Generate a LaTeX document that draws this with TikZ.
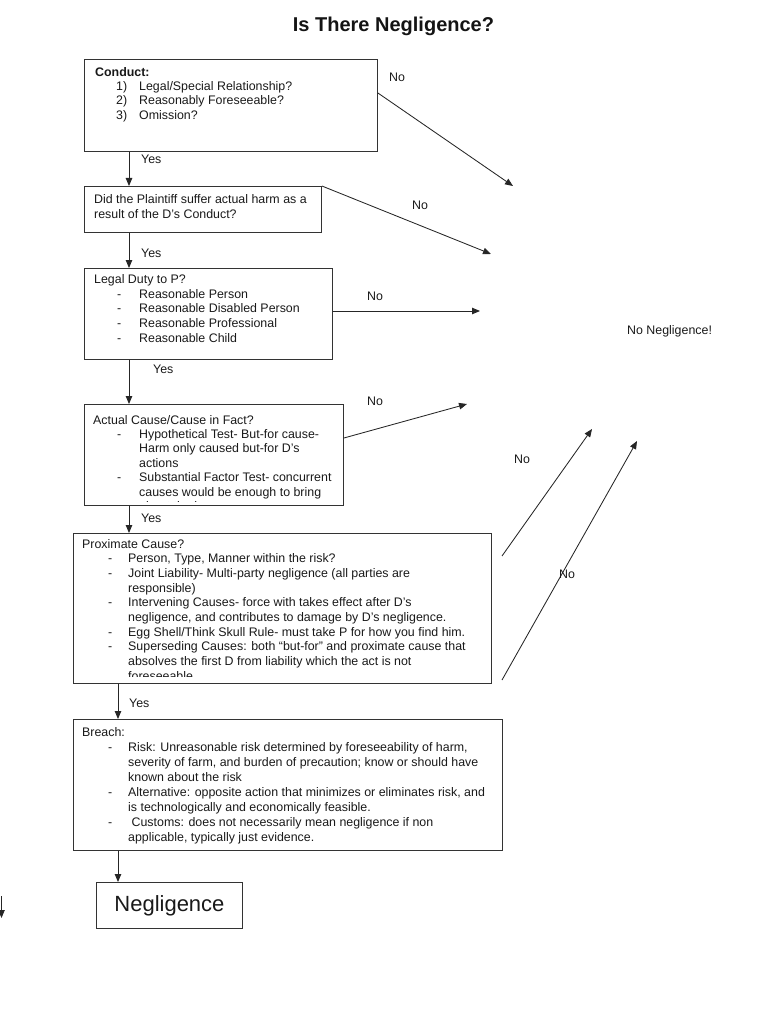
\documentclass[tikz,border=0pt]{standalone}
\usepackage{fontspec}
\setmainfont{Liberation Sans}
\usepackage{array}
\usetikzlibrary{arrows.meta,calc}
\tikzset{
  box/.style={draw=black!80, line width=0.9pt, rectangle, inner sep=0pt, anchor=north west},
  txt/.style={inner sep=0pt, anchor=base west, text=black!90, font=\fontsize{12.4}{14.6}\selectfont},
  arr/.style={draw=black!85, line width=0.85pt, -{Triangle[length=8pt,width=6.5pt]}},
}
\begin{document}
\begin{tikzpicture}[x=1pt,y=-1pt]
\useasboundingbox (0,0) rectangle (768,1024);

% title
\node[inner sep=0pt, anchor=base, text=black!92, font=\bfseries\fontsize{20}{24}\selectfont] (title) at (393.5,31.7) {Is There Negligence?};

% boxes
\node[box, minimum width=293, minimum height=92] (b1) at (84,59) {};
\node[box, minimum width=237, minimum height=46] (b2) at (84,186) {};
\node[box, minimum width=248, minimum height=91] (b3) at (84,268) {};
\node[box, minimum width=259, minimum height=101] (b4) at (84,404) {};
\node[box, minimum width=418, minimum height=150] (b5) at (73,533) {};
\node[box, minimum width=429, minimum height=131] (b6) at (73,719) {};
\node[box, minimum width=146, minimum height=46, text=black!90, font=\fontsize{22}{26}\selectfont] (b7) at (96,882) {Negligence};

% box texts
\node[txt, font=\fontsize{12.4}{14.2}\selectfont] (t1) at (95,76.5) {\begin{tabular}[t]{@{}p{21pt}@{}p{23pt}@{}l@{}}
\multicolumn{3}{@{}l@{}}{\textbf{Conduct:}}\\
 & 1) & Legal/Special Relationship?\\
 & 2) & Reasonably Foreseeable?\\
 & 3) & Omission?
\end{tabular}};

\node[txt, font=\fontsize{12.4}{15}\selectfont] (t2) at (94,204) {\begin{tabular}[t]{@{}l@{}}
Did the Plaintiff suffer actual harm as a\\
result of the D’s Conduct?
\end{tabular}};

\node[txt, font=\fontsize{12.4}{14.7}\selectfont] (t3) at (94,283.5) {\begin{tabular}[t]{@{}p{23pt}@{}p{22pt}@{}l@{}}
\multicolumn{3}{@{}l@{}}{Legal Duty to P?}\\
 & - & Reasonable Person\\
 & - & Reasonable Disabled Person\\
 & - & Reasonable Professional\\
 & - & Reasonable Child
\end{tabular}};

\begin{scope}
\clip (b4.north west) rectangle ($(b4.south east)+(0,-4.5)$);
\node[txt, font=\fontsize{12.4}{14.4}\selectfont] (t4) at (93,424) {\begin{tabular}[t]{@{}p{24pt}@{}p{22pt}@{}l@{}}
\multicolumn{3}{@{}l@{}}{Actual Cause/Cause in Fact?}\\
 & - & Hypothetical Test- But-for cause-\\
 & & Harm only caused but-for D’s\\
 & & actions\\
 & - & Substantial Factor Test- concurrent\\
 & & causes would be enough to bring\\
 & & about the harm
\end{tabular}};
\end{scope}

\begin{scope}
\clip (b5.north west) rectangle ($(b5.south east)+(0,-7)$);
\node[txt, font=\fontsize{12.4}{14.7}\selectfont] (t5) at (82,548) {\begin{tabular}[t]{@{}p{26pt}@{}p{20pt}@{}l@{}}
\multicolumn{3}{@{}l@{}}{Proximate Cause?}\\
 & - & Person, Type, Manner within the risk?\\
 & - & Joint Liability- Multi-party negligence (all parties are\\
 & & responsible)\\
 & - & Intervening Causes- force with takes effect after D’s\\
 & & negligence, and contributes to damage by D’s negligence.\\
 & - & Egg Shell/Think Skull Rule- must take P for how you find him.\\
 & - & Superseding Causes: both “but-for” and proximate cause that\\
 & & absolves the first D from liability which the act is not\\
 & & foreseeable.
\end{tabular}};
\end{scope}

\node[txt, font=\fontsize{12.4}{15}\selectfont] (t6) at (82,736) {\begin{tabular}[t]{@{}p{26pt}@{}p{20pt}@{}l@{}}
\multicolumn{3}{@{}l@{}}{Breach:}\\
 & - & Risk: Unreasonable risk determined by foreseeability of harm,\\
 & & severity of farm, and burden of precaution; know or should have\\
 & & known about the risk\\
 & - & Alternative: opposite action that minimizes or eliminates risk, and\\
 & & is technologically and economically feasible.\\
 & - & \ Customs: does not necessarily mean negligence if non\\
 & & applicable, typically just evidence.
\end{tabular}};

% yes arrows
\coordinate (xa) at (129,0);
\coordinate (xb) at (118,0);
\draw[arr] (b1.south -| xa) -- (b2.north -| xa);
\draw[arr] (b2.south -| xa) -- (b3.north -| xa);
\draw[arr] (b3.south -| xa) -- (b4.north -| xa);
\draw[arr] (b4.south -| xa) -- (b5.north -| xa);
\draw[arr] (b5.south -| xb) -- (b6.north -| xb);
\draw[arr] (b6.south -| xb) -- (b7.north -| xb);

\node[txt] (y1) at (141,164) {Yes};
\node[txt] (y2) at (141,257) {Yes};
\node[txt] (y3) at (153,373) {Yes};
\node[txt] (y4) at (141,522) {Yes};
\node[txt] (y5) at (129,707) {Yes};

% no arrows
\coordinate (e1) at (513,186);
\coordinate (e2) at (491,254);
\coordinate (e3) at (480,311);
\coordinate (e4) at (467,404);
\coordinate (s5) at (502,556);
\coordinate (e5) at (592,429);
\coordinate (s6) at (502,680);
\coordinate (e6) at (637,441);
\draw[arr] ($(b1.north east)+(0,34)$) -- (e1);
\draw[arr] (b2.north east) -- (e2);
\draw[arr] ($(b3.north east)+(0,43)$) -- (e3);
\draw[arr] ($(b4.north east)+(0,34)$) -- (e4);
\draw[arr] (s5) -- (e5);
\draw[arr] (s6) -- (e6);

\node[txt] (n1) at (389,82) {No};
\node[txt] (n2) at (412,210) {No};
\node[txt] (n3) at (367,300.5) {No};
\node[txt] (n4) at (367,405.5) {No};
\node[txt] (n5) at (514,463) {No};
\node[txt] (n6) at (559,578) {No};

\node[txt] (nn) at (627,334) {No Negligence!};

% stray arrow at left edge
\coordinate (l1) at (1.5,896);
\coordinate (l2) at (1.5,918);
\draw[arr] (l1) -- (l2);
\end{tikzpicture}
\end{document}
